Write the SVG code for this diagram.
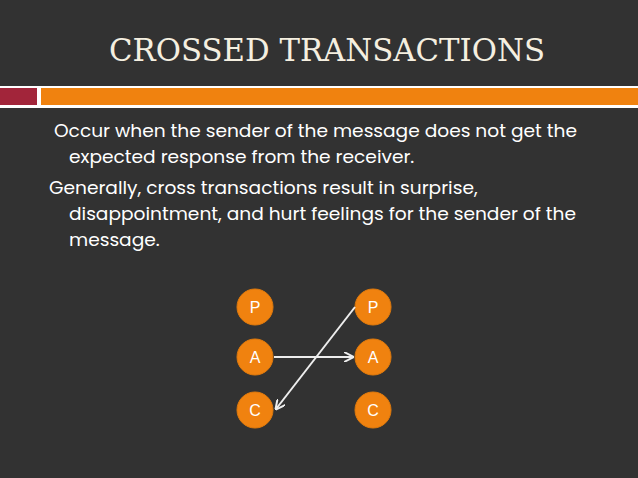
<svg xmlns="http://www.w3.org/2000/svg" width="638" height="478" viewBox="0 0 638 478">
<defs>
<style>
.n circle{fill:#f0820f;stroke:#e07a0c;stroke-width:1}
.n text{fill:#fff;font-family:"Liberation Sans",Arial,sans-serif;font-size:16px;text-anchor:middle}
.b{fill:#fff;font-family:"Poppins","Inter","Liberation Sans",sans-serif;font-size:18.6px}
.c line{stroke:#eeeeee;stroke-width:2;marker-end:url(#ah)}
</style>
<marker id="ah" viewBox="0 0 10 10" refX="9" refY="5" markerWidth="5" markerHeight="5" orient="auto"><path d="M0,0 L10,5 L0,10" fill="none" stroke="#eee" stroke-width="2"/></marker>
</defs>
<rect width="638" height="478" fill="#323232"/>
<text x="327" y="61" text-anchor="middle" font-family="'DejaVu Serif','Liberation Serif',serif" font-size="31" fill="#f5efe0" textLength="436" lengthAdjust="spacingAndGlyphs">CROSSED TRANSACTIONS</text>
<rect x="0" y="86" width="638" height="22" fill="#ffffff"/>
<rect x="0" y="88" width="37" height="17" fill="#a2253a"/>
<rect x="41" y="88" width="597" height="17" fill="#f0820f"/>
<text class="b" x="54" y="137">Occur when the sender of the message does not get the</text>
<text class="b" x="69" y="163">expected response from the receiver.</text>
<text class="b" x="49" y="194">Generally, cross transactions result in surprise,</text>
<text class="b" x="69" y="220">disappointment, and hurt feelings for the sender of the</text>
<text class="b" x="69" y="246">message.</text>
<g id="lp" class="n"><circle cx="255" cy="307" r="18"/><text x="255" y="313">P</text></g>
<g id="la" class="n"><circle cx="255" cy="357" r="18"/><text x="255" y="363">A</text></g>
<g id="lc" class="n"><circle cx="255" cy="410" r="18"/><text x="255" y="416">C</text></g>
<g id="rp" class="n"><circle cx="373" cy="307" r="18"/><text x="373" y="313">P</text></g>
<g id="ra" class="n"><circle cx="373" cy="357" r="18"/><text x="373" y="363">A</text></g>
<g id="rc" class="n"><circle cx="373" cy="410" r="18"/><text x="373" y="416">C</text></g>
<g class="c">
<line x1="274" y1="357" x2="353" y2="357"/>
<line x1="355" y1="307" x2="276" y2="409"/>
</g>
</svg>
